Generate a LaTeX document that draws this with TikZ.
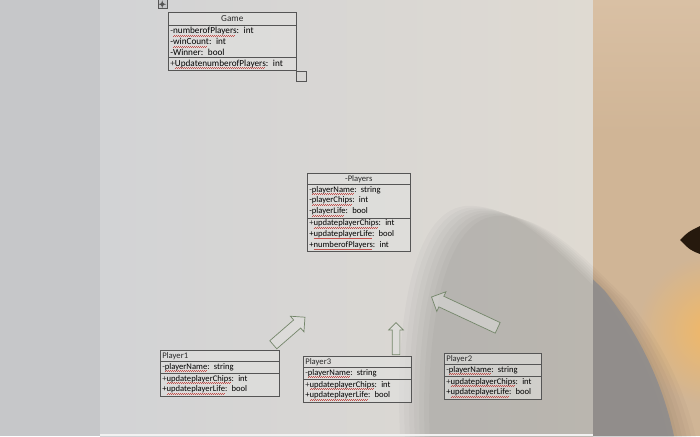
\documentclass[tikz,border=0pt]{standalone}
\usepackage{fontspec}
\setmainfont{Carlito}
\usetikzlibrary{shapes.multipart,shapes.arrows}
\tikzset{>=latex}
\definecolor{wall}{HTML}{C6C7C9}
\definecolor{pgl}{HTML}{D2D3D5}
\definecolor{pgm}{HTML}{E2E2E0}
\definecolor{pgr}{HTML}{DFDAD2}
\definecolor{lamp}{HTML}{D9C0A4}
\definecolor{lampd}{HTML}{D0B596}
\definecolor{glow}{HTML}{F2B865}
\definecolor{shd}{HTML}{8D8C8E}
\definecolor{paper}{HTML}{E1E1DF}
\definecolor{ink}{HTML}{2A2A2A}
\definecolor{rim}{HTML}{555555}
\definecolor{arr}{HTML}{74866A}
\definecolor{spell}{HTML}{C4504C}
\newcommand*{\spl}[1]{\setbox0\hbox{#1}\rlap{\color{spell}\leaders\hbox{\rule[-2.4pt]{1pt}{.45pt}\rule[-1.9pt]{1pt}{.45pt}}\hskip\wd0}#1}
\newcommand*{\ctr}[1]{\hspace*{\fill}#1\hspace*{\fill}}
\newcommand*{\blob}{(400, 436)..controls(395, 330)and(410, 212)..(465, 206)..controls(515, 203)and(556, 250)..(598, 290)..controls(638, 340)and(658, 390)..(668, 436)--cycle}
\tikzset{
  uml/.style={rectangle split, rectangle split parts=3, draw=rim, line width=.6pt,
    fill=paper, fill opacity=.6, text opacity=1, text=ink, font=\fontsize{8.6}{10.8}\selectfont, align=left,
    inner xsep=2pt, inner ysep=1.5pt, anchor=north west},
  inh/.style={single arrow, draw=arr, line width=.7pt, fill=paper, fill opacity=.5, draw opacity=1,
    inner xsep=0pt, anchor=tail, single arrow head indent=0pt}
}

\begin{document}
\begin{tikzpicture}[x=1pt, y=-1pt]
    \useasboundingbox(0, 0) rectangle (700, 436);
    \fill[wall](0, 0) rectangle (100, 436);
    \shade[left color=pgl, middle color=pgm, right color=pgr](100, 0) rectangle (593, 436);	%page
    \shade[top color=lamp, bottom color=lampd](593, 0) rectangle (700, 133);
    \fill[lampd](593, 133) rectangle (700, 436);
    \shade[inner color=glow, outer color=lampd](712, 330) circle (75);
    % shadow
    \foreach \d in {0, 5, ..., 30}
      \fill[black, opacity=.022, xshift=\d, yshift=-\d/3]\blob;
    \begin{scope}
      \clip(593, 0) rectangle (700, 436);
      \fill[shd, opacity=.85, xshift=6]\blob;
    \end{scope}
    \fill[black!80!brown](680, 240)..controls(688, 232)..(700, 226)--(700, 254)..controls(690, 250)..(680, 240);	%lamp
    \fill[white!90!gray](100, 434) rectangle (593, 436);
    % classes
    \node[uml, text width=124pt, font=\fontsize{9.2}{10.8}\selectfont, inner ysep=1.7pt](game) at (168, 12){\ctr{\rule[-2.3pt]{0pt}{9.3pt}Game}
      \nodepart{second}-\spl{numberofPlayers}: int\\-\spl{winCount}: int\\-Winner: bool
      \nodepart{third}+\spl{UpdatenumberofPlayers}: int};
    \node[uml, text width=99pt](players) at (307, 173){\ctr{-Players}
      \nodepart{second}-\spl{playerName}: string\\-\spl{playerChips}: int\\-\spl{playerLife}: bool
      \nodepart{third}+\spl{updateplayerChips}: int\\+\spl{updateplayerLife}: bool\\+\spl{numberofPlayers}: int};
    \node[uml, text width=115pt](pone) at (160, 350){Player1
      \nodepart{second}-\spl{playerName}: string
      \nodepart{third}+\spl{updateplayerChips}: int\\+\spl{updateplayerLife}: bool};
    \node[uml, text width=104pt](pthree) at (303, 356){Player3
      \nodepart{second}-\spl{playerName}: string
      \nodepart{third}+\spl{updateplayerChips}: int\\+\spl{updateplayerLife}: bool};
    \node[uml, text width=93pt](ptwo) at (444, 353){Player2
      \nodepart{second}-\spl{playerName}: string
      \nodepart{third}+\spl{updateplayerChips}: int\\+\spl{updateplayerLife}: bool};
    % handles
    \node[draw=rim, line width=.5pt, minimum size=10pt, inner sep=0pt, anchor=north west](rsz) at ([xshift=-1pt]game.south east){};
    \node[draw=rim, fill=wall, line width=.5pt, minimum size=9pt, inner sep=0pt, anchor=south east](mv) at ([shift={(-1, -3)}]game.north west){};
    \draw[<->, rim, line width=.4pt, shorten >=.8pt, shorten <=.8pt](mv.west)--(mv.east);
    \draw[<->, rim, line width=.4pt, shorten >=.8pt, shorten <=.8pt](mv.north)--(mv.south);
    % generalisation
    \node[inh, rotate=41, minimum height=42pt, inner ysep=5pt, single arrow head extend=5pt](arone) at (273, 345){};
    \node[inh, rotate=90, minimum height=32pt, inner ysep=3.5pt, single arrow head extend=3.5pt](arthree) at (396, 355){};
    \node[inh, rotate=155, minimum height=73pt, inner ysep=5.5pt, single arrow head extend=5pt](artwo) at (498, 328){};
\end{tikzpicture}
\end{document}
